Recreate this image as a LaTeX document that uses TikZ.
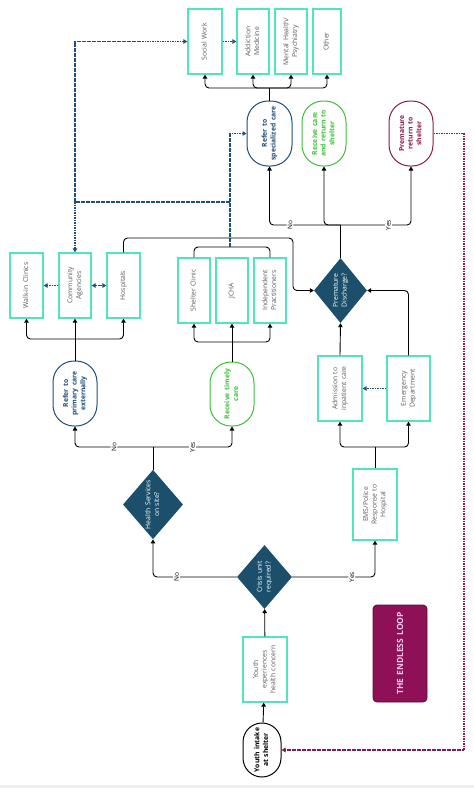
\documentclass[tikz,border=0pt]{standalone}
\usepackage{fontspec}
\setmainfont[WordSpace=1.4]{Open Sans}
\usetikzlibrary{shapes.geometric,arrows.meta}
\definecolor{mint}{HTML}{4FE6BE}
\definecolor{navy}{HTML}{1F4E79}
\definecolor{diafill}{HTML}{1B4F6B}
\definecolor{gr}{HTML}{3DC13A}
\definecolor{maroon}{HTML}{8A1A4E}
\definecolor{loopfill}{HTML}{8E1057}
\definecolor{loopedge}{HTML}{5A0A36}
\definecolor{looptext}{HTML}{F9C8EC}
\definecolor{txtgray}{HTML}{5A5A5A}
\newcommand{\rt}[1]{\rotatebox{90}{\begin{tabular}{@{}c@{}}#1\end{tabular}}}
\tikzset{
  box/.style={draw=mint, line width=1.3pt, fill=white, inner sep=0pt, text=txtgray,
    font=\fontsize{6.8}{8.6}\selectfont},
  pill/.style={draw, line width=1pt, fill=white, inner sep=0pt, rounded corners=21pt,
    font=\fontsize{6.8}{8.6}\selectfont\bfseries},
  dia/.style={diamond, fill=diafill, inner sep=0pt, aspect=0.85, text=white,
    font=\fontsize{6.8}{8.6}\selectfont},
  conn/.style={line width=0.9pt, rounded corners=4pt},
  arr/.style={conn, -{Triangle[length=4pt,width=4.5pt]}},
  dsh/.style={draw=navy, line width=1.1pt, dash pattern=on 1.6pt off 0.9pt},
  darr/.style={dsh, -{Triangle[length=4pt,width=4.5pt]}},
  dboth/.style={dsh, {Triangle[length=4pt,width=4.5pt]}-{Triangle[length=4pt,width=4.5pt]}},
  mdsh/.style={draw=maroon, line width=1.1pt, dash pattern=on 1.6pt off 0.9pt,
    -{Triangle[length=4pt,width=4.5pt]}},
  lbl/.style={fill=white, inner sep=1pt, rotate=90, font=\fontsize{6.5}{7}\selectfont}
}
\begin{document}
\begin{tikzpicture}[x=1pt,y=-1pt]
\useasboundingbox (0,0) rectangle (474,788);
\fill[gray!12] (0,785) rectangle (474,788);
% top row
\node[box, minimum width=34pt, minimum height=65pt] (sw) at (205,41.5) {\rt{Social Work}};
\node[box, minimum width=32pt, minimum height=65pt] (am) at (253,41.5) {\rt{Addiction\\Medicine}};
\node[box, minimum width=32pt, minimum height=65pt] (mh) at (291,41.5) {\rt{Mental Health/\\Psychiatry}};
\node[box, minimum width=28pt, minimum height=65pt] (ot) at (327,41.5) {\rt{Other}};
% pills row 1
\node[pill, draw=navy, text=navy, minimum width=45pt, minimum height=65pt] (rs) at (269.5,133.5) {\rt{Refer to\\specialized care}};
\node[pill, draw=gr, text=gr, minimum width=44pt, minimum height=65pt] (rc) at (324,133.5) {\rt{Receive care\\and return to\\shelter}};
\node[pill, draw=maroon, text=maroon, minimum width=44pt, minimum height=65pt] (pr) at (411,133.5) {\rt{Premature\\return to\\shelter}};
% middle row
\node[box, minimum width=33pt, minimum height=65pt] (wc) at (26.5,285.5) {\rt{Walk-in Clinics}};
\node[box, minimum width=32pt, minimum height=65pt] (ca) at (75,285.5) {\rt{Community\\Agencies}};
\node[box, minimum width=33pt, minimum height=65pt] (ho) at (123.5,285.5) {\rt{Hospitals}};
\node[box, minimum width=32pt, minimum height=65pt] (sc) at (194,290.5) {\rt{Shelter Clinic}};
\node[box, minimum width=32pt, minimum height=65pt] (jc) at (232,290.5) {\rt{JCHA}};
\node[box, minimum width=32pt, minimum height=65pt] (ip) at (270,290.5) {\rt{Independent\\Practitioners}};
\node[dia, minimum width=53pt, minimum height=65pt] (pd) at (340.5,290.5) {\rt{Premature\\Discharge?}};
% pills row 2
\node[pill, draw=navy, text=navy, minimum width=44pt, minimum height=65pt] (rp) at (75,393.5) {\rt{Refer to\\primary care\\externally}};
\node[pill, draw=gr, text=gr, minimum width=44pt, minimum height=64pt] (rt) at (232,394) {\rt{Receive timely\\care}};
\node[box, minimum width=44pt, minimum height=65pt] (ad) at (340,388.5) {\rt{Admission to\\inpatient care}};
\node[box, minimum width=43pt, minimum height=65pt] (ed) at (408.5,388.5) {\rt{Emergency\\Department}};
% lower
\node[dia, minimum width=60pt, minimum height=69pt] (hs) at (153,504.5) {\rt{Health Services\\on site?}};
\node[box, minimum width=44pt, minimum height=71pt] (ems) at (375,504.5) {\rt{EMS/Police\\Response to\\Hospital}};
\node[dia, minimum width=55pt, minimum height=64pt] (cu) at (264.5,577) {\rt{Crisis unit\\required?}};
\node[box, minimum width=44pt, minimum height=65pt] (yc) at (265,669.5) {\rt{Youth\\experiences\\health concern}};
\node[pill, draw=black, text=black, rounded corners=19pt, minimum width=38pt, minimum height=54pt] (yi) at (262,750) {\rt{Youth intake\\at shelter}};
\node[draw=loopedge, fill=loopfill, line width=0.8pt, rounded corners=4pt, text=looptext,
  minimum width=54pt, minimum height=97pt, font=\fontsize{8.5}{10}\selectfont\bfseries] (el) at (400,653.5) {\rotatebox{90}{THE ENDLESS LOOP}};
% junction coordinates
\coordinate (hsj) at (153,447);
\coordinate (emj) at (375,447);
\coordinate (rpj) at (75,339);
\coordinate (rtj) at (232,342);
\coordinate (pdj) at (340.5,225);
\coordinate (rsj) at (269.5,88);
\coordinate (br) at (230,247);
\coordinate (dB) at (75,202);
\coordinate (dA) at (230,202);
\coordinate (hk) at (293,238);
\coordinate (mB) at (464,750);
% flow
\draw[arr] (yi) -- (yc);
\draw[arr] (yc) -- (cu);
\draw[arr] (cu.west) -| node[lbl, pos=0.36]{No} (hs.south);
\draw[arr] (cu.east) -| node[lbl, pos=0.36]{Yes} (ems.south);
\draw[conn] (hs.north) -- (hsj);
\draw[arr] (hsj) -| node[lbl, pos=0.25]{No} (rp.south);
\draw[arr] (hsj) -| node[lbl, pos=0.25]{Yes} (rt.south);
\draw[conn] (rp.north) -- (rpj);
\draw[arr] (rpj) -| (wc.south);
\draw[arr] (rpj) -- (ca.south);
\draw[arr] (rpj) -| (ho.south);
\draw[conn] (rt.north) -- (rtj);
\draw[arr] (rtj) -| (sc.south);
\draw[arr] (rtj) -- (jc.south);
\draw[arr] (rtj) -| (ip.south);
\draw[conn] (ems.north) -- (emj);
\draw[arr] (emj) -| (ad.south);
\draw[arr] (emj) -| (ed.south);
\draw[arr] (ad.north) -- (pd.south);
\draw[arr] (ed.north) |- (pd.east);
\draw[arr] (ho.north) |- (hk) |- (pd.west);
\draw[conn] (pd.north) -- (pdj);
\draw[arr] (pdj) -| node[lbl, pos=0.355]{No} (rs.south);
\draw[arr] (pdj) -| (rc.south);
\draw[arr] (pdj) -| node[lbl, pos=0.34]{Yes} (pr.south);
\draw[conn] (rs.north) -- (rsj);
\draw[arr] (rsj) -| (sw.south);
\draw[arr] (rsj) -| (am.south);
\draw[arr] (rsj) -| (mh.south);
\draw[arr] (rsj) -| (ot.south);
% bracket over on-site services
\draw[conn] (sc.north) |- (br) -| (ip.north);
% dashed navy
\draw[darr] (ca.west) -- (wc.east);
\draw[dboth] (ca.east) -- (ho.west);
\draw[darr] (ed.west) -- (ad.east);
\draw[darr] (sw.east) -- (am.west);
\draw[darr] (br) |- (rs.west);
\draw[dsh] (dA) -- (dB);
\draw[darr] (dB) -- (ca.north);
\draw[darr] (dB) |- (sw.west);
% maroon loop back
\draw[mdsh] (pr.east) -| (mB) -- (yi.east);
\end{tikzpicture}
\end{document}
